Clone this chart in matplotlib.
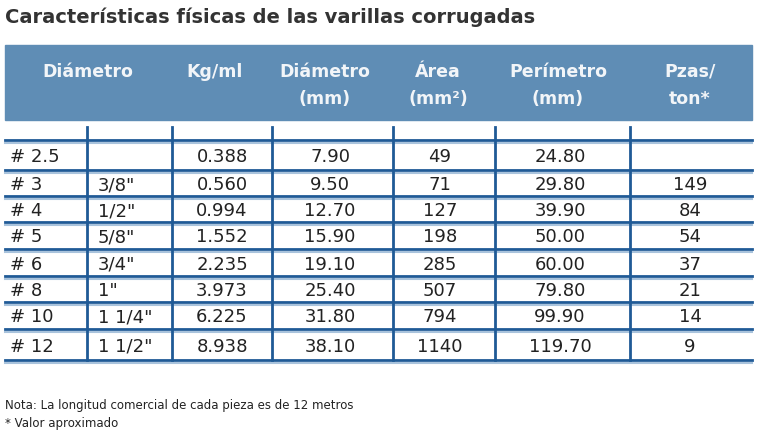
import matplotlib
matplotlib.use('Agg')
import matplotlib.pyplot as plt

plt.rcParams['font.family'] = ['DejaVu Sans']

title = 'Características físicas de las varillas corrugadas'
headers = ['Diámetro', 'Kg/ml', 'Diámetro\n(mm)', 'Área\n(mm²)', 'Perímetro\n(mm)', 'Pzas/\nton*']
numero = ['# 2.5', '# 3', '# 4', '# 5', '# 6', '# 8', '# 10', '# 12']
pulgadas = ['', '3/8"', '1/2"', '5/8"', '3/4"', '1"', '1 1/4"', '1 1/2"']
kg_ml = ['0.388', '0.560', '0.994', '1.552', '2.235', '3.973', '6.225', '8.938']
diam_mm = ['7.90', '9.50', '12.70', '15.90', '19.10', '25.40', '31.80', '38.10']
area = ['49', '71', '127', '198', '285', '507', '794', '1140']
perimetro = ['24.80', '29.80', '39.90', '50.00', '60.00', '79.80', '99.90', '119.70']
pzas = ['', '149', '84', '54', '37', '21', '14', '9']
notas = ['Nota: La longitud comercial de cada pieza es de 12 metros', '* Valor aproximado']

W, H = 768, 437
fig = plt.figure(figsize=(W / 100, H / 100), dpi=100)
ax = fig.add_axes([0, 0, 1, 1])
ax.set_xlim(0, W)
ax.set_ylim(H, 0)
ax.axis('off')

blue = '#1f5a96'
light = '#a9c3dc'
txt = '#222222'

ax.text(5, 17, title, fontsize=14, fontweight='bold', color='#333333', va='center')

# header band
ax.add_patch(plt.Rectangle((5, 45), 747, 75, color='#5f8db5'))
hx = [88, 215, 325, 438, 558, 690]
for x, h in zip(hx, headers):
    for i, l in enumerate(h.split('\n')):
        ax.text(x, 72 + i * 27, l, fontsize=12.5, fontweight='bold', color='#f2f5f8',
                ha='center', va='center')

# row lines (double: dark + light)
bounds = [140, 170, 196, 222, 249, 276, 302, 329, 360]
for y in bounds:
    ax.plot([5, 752], [y, y], color=blue, lw=2)
    ax.plot([5, 752], [y + 2.5, y + 2.5], color=light, lw=1.5)
for x in [87, 172, 272, 393, 495, 630]:
    ax.plot([x, x], [127, 360], color=blue, lw=2)

cx = [222, 330, 440, 560, 690]
for i in range(len(numero)):
    y = (bounds[i] + bounds[i + 1]) / 2 + 2
    ax.text(10, y, numero[i], fontsize=13, color=txt, va='center')
    ax.text(98, y, pulgadas[i], fontsize=13, color=txt, va='center')
    for x, col in zip(cx, [kg_ml, diam_mm, area, perimetro, pzas]):
        ax.text(x, y, col[i], fontsize=13, color=txt, ha='center', va='center')

ax.text(5, 405, notas[0], fontsize=8.5, color=txt, va='center')
ax.text(5, 424, notas[1], fontsize=8.5, color=txt, va='center')

fig.savefig('out.png', dpi=100)
